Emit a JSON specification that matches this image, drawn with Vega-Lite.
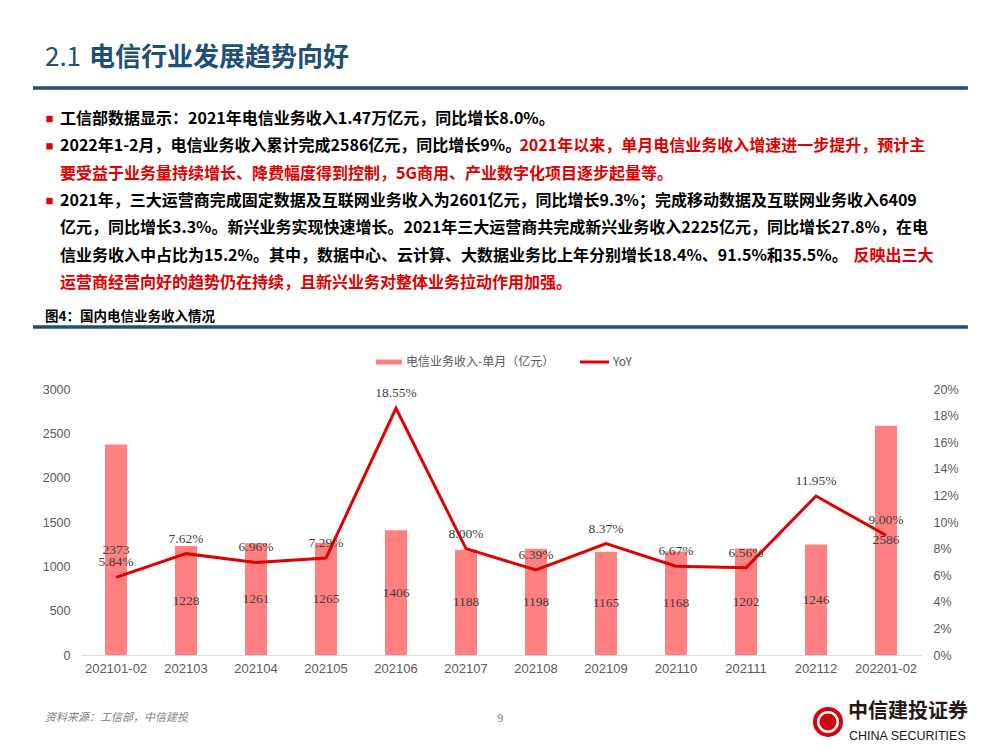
{
  "$schema": "https://vega.github.io/schema/vega-lite/v6.json",
  "width": 840,
  "height": 266,
  "autosize": {"type": "none"},
  "padding": {"left": 81, "top": 389, "right": 79, "bottom": 95},
  "background": "#ffffff",
  "config": {"view": {"stroke": null}},
  "layer": [
    {
      "data": {
        "values": [
          {"month": "202101-02", "revenue": 2373, "yoy": 0.0584},
          {"month": "202103", "revenue": 1228, "yoy": 0.0762},
          {"month": "202104", "revenue": 1261, "yoy": 0.0696},
          {"month": "202105", "revenue": 1265, "yoy": 0.0729},
          {"month": "202106", "revenue": 1406, "yoy": 0.1855},
          {"month": "202107", "revenue": 1188, "yoy": 0.0800},
          {"month": "202108", "revenue": 1198, "yoy": 0.0639},
          {"month": "202109", "revenue": 1165, "yoy": 0.0837},
          {"month": "202110", "revenue": 1168, "yoy": 0.0667},
          {"month": "202111", "revenue": 1202, "yoy": 0.0656},
          {"month": "202112", "revenue": 1246, "yoy": 0.1195},
          {"month": "202201-02", "revenue": 2586, "yoy": 0.0900}
        ]
      },
      "encoding": {
        "x": {
          "field": "month",
          "type": "ordinal",
          "sort": null,
          "scale": {"type": "band", "paddingInner": 0.686, "paddingOuter": 0.343},
          "axis": {
            "title": null,
            "labelAngle": 0,
            "ticks": false,
            "domainColor": "#D9D9D9",
            "domainWidth": 1,
            "labelColor": "#595959",
            "labelFont": "Liberation Sans",
            "labelFontSize": 13,
            "labelPadding": 7
          }
        }
      },
      "layer": [
        {
          "mark": {"type": "bar", "color": "#FF8080"},
          "encoding": {
            "y": {
              "field": "revenue",
              "type": "quantitative",
              "scale": {"domain": [0, 3000], "nice": false},
              "axis": {
                "title": null,
                "orient": "left",
                "format": "d",
                "values": [0, 500, 1000, 1500, 2000, 2500, 3000],
                "grid": false,
                "domain": false,
                "ticks": false,
                "labelColor": "#595959",
                "labelFont": "Liberation Sans",
                "labelFontSize": 12.5,
                "labelPadding": 11
              }
            }
          }
        },
        {
          "mark": {"type": "text", "font": "Liberation Serif", "fontSize": 13.5, "color": "#404040", "baseline": "middle"},
          "encoding": {
            "y": {"field": "revenue", "type": "quantitative", "scale": {"domain": [0, 6000], "nice": false}, "axis": null},
            "text": {"field": "revenue", "type": "quantitative", "format": "d"}
          }
        },
        {
          "mark": {"type": "line", "color": "#E00000", "strokeWidth": 3},
          "encoding": {
            "y": {
              "field": "yoy",
              "type": "quantitative",
              "scale": {"domain": [0, 0.2], "nice": false},
              "axis": {
                "title": null,
                "orient": "right",
                "format": ".0%",
                "values": [0, 0.02, 0.04, 0.06, 0.08, 0.1, 0.12, 0.14, 0.16, 0.18, 0.2],
                "grid": false,
                "domain": false,
                "ticks": false,
                "labelColor": "#595959",
                "labelFont": "Liberation Sans",
                "labelFontSize": 12.5,
                "labelPadding": 12
              }
            }
          }
        },
        {
          "mark": {"type": "text", "font": "Liberation Serif", "fontSize": 13.5, "color": "#404040", "baseline": "middle", "dy": -15},
          "encoding": {
            "y": {"field": "yoy", "type": "quantitative", "scale": {"domain": [0, 0.2], "nice": false}, "axis": null},
            "text": {"field": "yoy", "type": "quantitative", "format": ".2%"}
          }
        }
      ],
      "resolve": {"scale": {"y": "independent"}, "axis": {"y": "independent"}}
    },
    {
      "layer": [
        {
          "data": {"values": [{"row": -1.232, "col": -1.8, "text": "2.1"}]},
          "mark": {"type": "text", "font": "Noto Sans CJK SC", "fontSize": 26, "fontWeight": "normal", "color": "#1F4E79", "align": "left", "baseline": "middle"},
          "encoding": {
            "x": {"field": "col", "type": "quantitative", "scale": {"domain": [0, 105], "range": [-21, 856], "nice": false, "zero": false}, "axis": null},
            "y": {"field": "row", "type": "quantitative", "scale": {"domain": [1, 7], "range": [-270, -106], "nice": false, "zero": false}, "axis": null},
            "text": {"field": "text"}
          }
        },
        {
          "data": {"values": [{"row": -1.232, "col": 3.47, "text": "电信行业发展趋势向好"}]},
          "mark": {"type": "text", "font": "Noto Sans CJK SC", "fontSize": 26, "fontWeight": "bold", "color": "#1F4E79", "align": "left", "baseline": "middle"},
          "encoding": {
            "x": {"field": "col", "type": "quantitative", "scale": {"domain": [0, 105], "range": [-21, 856], "nice": false, "zero": false}, "axis": null},
            "y": {"field": "row", "type": "quantitative", "scale": {"domain": [1, 7], "range": [-270, -106], "nice": false, "zero": false}, "axis": null},
            "text": {"field": "text"}
          }
        },
        {
          "data": {"values": [
            {"row": -0.134, "col": -3.23, "col2": 108.7},
            {"row": 8.61, "col": -3.23, "col2": 108.7}
          ]},
          "mark": {"type": "rule", "color": "#1F4E79", "strokeWidth": 3.5},
          "encoding": {
            "x": {"field": "col", "type": "quantitative", "scale": {"domain": [0, 105], "range": [-21, 856], "nice": false, "zero": false}, "axis": null},
            "x2": {"field": "col2"},
            "y": {"field": "row", "type": "quantitative", "scale": {"domain": [1, 7], "range": [-270, -106], "nice": false, "zero": false}, "axis": null}
          }
        },
        {
          "data": {"values": [
            {"row": 1, "col": -1.26},
            {"row": 2, "col": -1.26},
            {"row": 4, "col": -1.26}
          ]},
          "mark": {"type": "point", "shape": "square", "filled": true, "size": 40, "color": "#E00000", "opacity": 1},
          "encoding": {
            "x": {"field": "col", "type": "quantitative", "scale": {"domain": [0, 105], "range": [-21, 856], "nice": false, "zero": false}, "axis": null},
            "y": {"field": "row", "type": "quantitative", "scale": {"domain": [1, 7], "range": [-270, -106], "nice": false, "zero": false}, "axis": null}
          }
        },
        {
          "data": {"values": [
            {"row": 1, "col": 0, "kind": "statement", "text": "工信部数据显示：2021年电信业务收入1.47万亿元，同比增长8.0%。"},
            {"row": 2, "col": 0, "kind": "statement", "text": "2022年1-2月，电信业务收入累计完成2586亿元，同比增长9%。"},
            {"row": 2, "col": 55, "kind": "highlight", "text": "2021年以来，单月电信业务收入增速进一步提升，预计主"},
            {"row": 3, "col": 0, "kind": "highlight", "text": "要受益于业务量持续增长、降费幅度得到控制，5G商用、产业数字化项目逐步起量等。"},
            {"row": 4, "col": 0, "kind": "statement", "text": "2021年，三大运营商完成固定数据及互联网业务收入为2601亿元，同比增长9.3%；完成移动数据及互联网业务收入6409"},
            {"row": 5, "col": 0, "kind": "statement", "text": "亿元，同比增长3.3%。新兴业务实现快速增长。2021年三大运营商共完成新兴业务收入2225亿元，同比增长27.8%，在电"},
            {"row": 6, "col": 0, "kind": "statement", "text": "信业务收入中占比为15.2%。其中，数据中心、云计算、大数据业务比上年分别增长18.4%、91.5%和35.5%。"},
            {"row": 6, "col": 95, "kind": "highlight", "text": "反映出三大"},
            {"row": 7, "col": 0, "kind": "highlight", "text": "运营商经营向好的趋势仍在持续，且新兴业务对整体业务拉动作用加强。"}
          ]},
          "mark": {"type": "text", "font": "Noto Sans CJK SC", "fontSize": 16, "fontWeight": "bold", "align": "left", "baseline": "middle"},
          "encoding": {
            "x": {"field": "col", "type": "quantitative", "scale": {"domain": [0, 105], "range": [-21, 856], "nice": false, "zero": false}, "axis": null},
            "y": {"field": "row", "type": "quantitative", "scale": {"domain": [1, 7], "range": [-270, -106], "nice": false, "zero": false}, "axis": null},
            "color": {"field": "kind", "type": "nominal", "scale": {"domain": ["statement", "highlight"], "range": ["#000000", "#E00000"]}, "legend": null},
            "text": {"field": "text"}
          }
        },
        {
          "data": {"values": [{"row": 8.244, "col": -1.8, "text": "图4：国内电信业务收入情况"}]},
          "mark": {"type": "text", "font": "Noto Sans CJK SC", "fontSize": 13.5, "fontWeight": "bold", "color": "#000000", "align": "left", "baseline": "middle"},
          "encoding": {
            "x": {"field": "col", "type": "quantitative", "scale": {"domain": [0, 105], "range": [-21, 856], "nice": false, "zero": false}, "axis": null},
            "y": {"field": "row", "type": "quantitative", "scale": {"domain": [1, 7], "range": [-270, -106], "nice": false, "zero": false}, "axis": null},
            "text": {"field": "text"}
          }
        },
        {
          "data": {"values": [
            {"row": 9.89, "col": 37.84, "col2": 40.95, "series": "电信业务收入-单月（亿元）"},
            {"row": 9.89, "col": 62.26, "col2": 65.73, "series": "YoY"}
          ]},
          "mark": {"type": "rule"},
          "encoding": {
            "x": {"field": "col", "type": "quantitative", "scale": {"domain": [0, 105], "range": [-21, 856], "nice": false, "zero": false}, "axis": null},
            "x2": {"field": "col2"},
            "y": {"field": "row", "type": "quantitative", "scale": {"domain": [1, 7], "range": [-270, -106], "nice": false, "zero": false}, "axis": null},
            "stroke": {"field": "series", "type": "nominal", "scale": {"domain": ["电信业务收入-单月（亿元）", "YoY"], "range": ["#FF8080", "#E00000"]}, "legend": null},
            "strokeWidth": {"field": "series", "type": "nominal", "scale": {"domain": ["电信业务收入-单月（亿元）", "YoY"], "range": [5, 3]}, "legend": null}
          }
        },
        {
          "data": {"values": [
            {"row": 9.89, "col": 41.43, "text": "电信业务收入-单月（亿元）"},
            {"row": 9.89, "col": 66.21, "text": "YoY"}
          ]},
          "mark": {"type": "text", "font": "Noto Sans CJK SC", "fontSize": 12, "color": "#595959", "align": "left", "baseline": "middle"},
          "encoding": {
            "x": {"field": "col", "type": "quantitative", "scale": {"domain": [0, 105], "range": [-21, 856], "nice": false, "zero": false}, "axis": null},
            "y": {"field": "row", "type": "quantitative", "scale": {"domain": [1, 7], "range": [-270, -106], "nice": false, "zero": false}, "axis": null},
            "text": {"field": "text"}
          }
        },
        {
          "data": {"values": [{"row": 22.915, "col": -1.8, "text": "资料来源：工信部，中信建投"}]},
          "mark": {"type": "text", "font": "Noto Sans CJK SC", "fontSize": 11, "fontStyle": "italic", "color": "#7F7F7F", "align": "left", "baseline": "middle"},
          "encoding": {
            "x": {"field": "col", "type": "quantitative", "scale": {"domain": [0, 105], "range": [-21, 856], "nice": false, "zero": false}, "axis": null},
            "y": {"field": "row", "type": "quantitative", "scale": {"domain": [1, 7], "range": [-270, -106], "nice": false, "zero": false}, "axis": null},
            "text": {"field": "text"}
          }
        },
        {
          "data": {"values": [{"row": 22.915, "col": 52.7, "text": "9"}]},
          "mark": {"type": "text", "font": "Liberation Serif", "fontSize": 12, "color": "#7F7F7F", "align": "center", "baseline": "middle"},
          "encoding": {
            "x": {"field": "col", "type": "quantitative", "scale": {"domain": [0, 105], "range": [-21, 856], "nice": false, "zero": false}, "axis": null},
            "y": {"field": "row", "type": "quantitative", "scale": {"domain": [1, 7], "range": [-270, -106], "nice": false, "zero": false}, "axis": null},
            "text": {"field": "text"}
          }
        },
        {
          "data": {"values": [{"row": 23.06, "col": 91.95}]},
          "mark": {"type": "point", "shape": "circle", "filled": true, "size": 900, "color": "#D7000F", "opacity": 1},
          "encoding": {
            "x": {"field": "col", "type": "quantitative", "scale": {"domain": [0, 105], "range": [-21, 856], "nice": false, "zero": false}, "axis": null},
            "y": {"field": "row", "type": "quantitative", "scale": {"domain": [1, 7], "range": [-270, -106], "nice": false, "zero": false}, "axis": null}
          }
        },
        {
          "data": {"values": [{"row": 23.06, "col": 91.95}]},
          "mark": {"type": "point", "shape": "circle", "filled": false, "size": 380, "stroke": "#ffffff", "strokeWidth": 2.5, "opacity": 1},
          "encoding": {
            "x": {"field": "col", "type": "quantitative", "scale": {"domain": [0, 105], "range": [-21, 856], "nice": false, "zero": false}, "axis": null},
            "y": {"field": "row", "type": "quantitative", "scale": {"domain": [1, 7], "range": [-270, -106], "nice": false, "zero": false}, "axis": null}
          }
        },
        {
          "data": {"values": [{"row": 22.70, "col": 94.35, "text": "中信建投证券"}]},
          "mark": {"type": "text", "font": "Noto Sans CJK SC", "fontSize": 20, "fontWeight": "bold", "color": "#231815", "align": "left", "baseline": "middle"},
          "encoding": {
            "x": {"field": "col", "type": "quantitative", "scale": {"domain": [0, 105], "range": [-21, 856], "nice": false, "zero": false}, "axis": null},
            "y": {"field": "row", "type": "quantitative", "scale": {"domain": [1, 7], "range": [-270, -106], "nice": false, "zero": false}, "axis": null},
            "text": {"field": "text"}
          }
        },
        {
          "data": {"values": [{"row": 23.58, "col": 94.47, "text": "CHINA SECURITIES"}]},
          "mark": {"type": "text", "font": "Liberation Sans Narrow, Liberation Sans", "fontSize": 12.5, "color": "#231815", "align": "left", "baseline": "middle"},
          "encoding": {
            "x": {"field": "col", "type": "quantitative", "scale": {"domain": [0, 105], "range": [-21, 856], "nice": false, "zero": false}, "axis": null},
            "y": {"field": "row", "type": "quantitative", "scale": {"domain": [1, 7], "range": [-270, -106], "nice": false, "zero": false}, "axis": null},
            "text": {"field": "text"}
          }
        }
      ]
    }
  ],
  "resolve": {"scale": {"x": "independent", "y": "independent", "color": "independent"}}
}
